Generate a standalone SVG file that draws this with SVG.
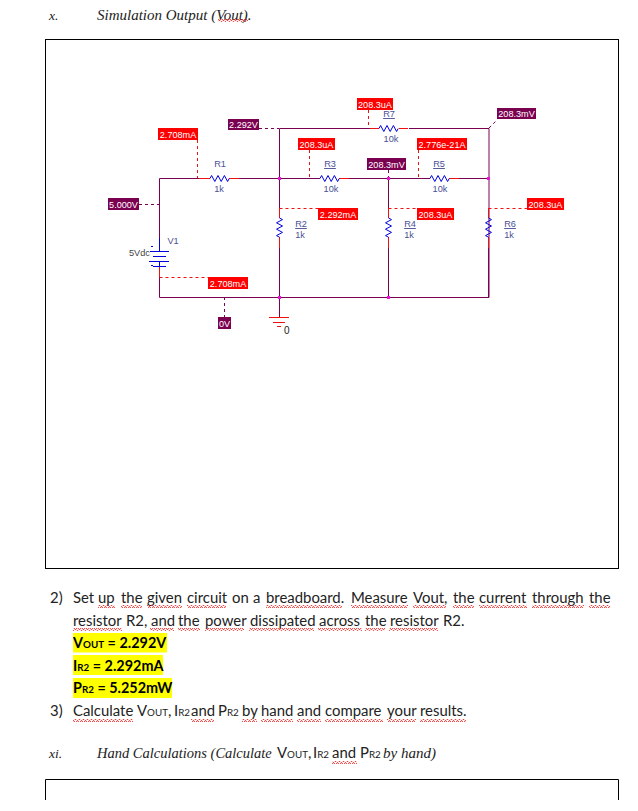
<svg xmlns="http://www.w3.org/2000/svg" width="638" height="811" viewBox="0 0 638 811">
<style>
.wire{fill:none;stroke:#7a0050;stroke-width:1}
.lead{fill:none;stroke:#f01010;stroke-width:1}
.part{fill:none;stroke:#0000e0;stroke-width:1}
.dr{fill:none;stroke:#ee1111;stroke-width:1;stroke-dasharray:3 3}
.dw{fill:none;stroke:#7a0050;stroke-width:1;stroke-dasharray:3 3}
.cur{fill:#ff0000}
.vol{fill:#7a0050}
.lb{font:9.100px "Liberation Sans",Arial,sans-serif;fill:#fff;text-anchor:middle}
.ref{font:9.200px "Liberation Sans",Arial,sans-serif;fill:#4a4f96;text-anchor:middle}
.u{text-decoration:underline}
.dot{fill:#ee11dd}
.frame{fill:none;stroke:#000;stroke-width:1}
.body{font:14.900px Lato,"Open Sans",sans-serif;fill:#222}
.bold{font:bold 14.400px Lato,"Open Sans",sans-serif;fill:#000}
.ital{font:italic 15px "Liberation Serif",serif;fill:#222}
.sub{font-size:9.800px}
.hl{fill:#ffff00}
.sq{fill:url(#squig)}
</style>
<defs>
<pattern id="squig" width="4" height="3" patternUnits="userSpaceOnUse"><path d="M0 2.500 L1 0.700 L2 0.700 L3 2.500 L4 2.500" fill="none" stroke="#f01818" stroke-width="0.800"/></pattern>
<path id="zig" d="M0 0l1.600-3 3.200 6 3.200-6 3.200 6 3.200-6 3.200 6 1.600-3"/>
</defs>

<rect class="frame" x="45.500" y="39.500" width="573" height="529"/>
<path class="frame" d="M45.500 800V779.500H618.500V800"/>

<text class="ital" x="49" y="20" style="font-size:13.500px">x.</text>
<text class="ital" x="97" y="20">Simulation Output (Vout).</text>
<rect class="sq" x="218" y="19" width="30" height="3"/>

<g id="connectors">
<path class="wire" d="M159.500 238V178.500H199M239 178.500H279.500M279.500 128.500V218M279.500 248V297.500M159.500 277V297.500H489V128.500H409M370 128.500H279.500M279.500 178.500H320M349 178.500H430M459 178.500H488.500M388.500 178.500V218M388.500 248V297.500M488.500 248V297M279.500 297.500V317"/>
<path class="lead" d="M199 178.500H210M229 178.500H239M339 178.500H349M449 178.500H459M399 128.500H408M370 128.500H379M279.500 237V248M388.500 237V248M488.500 237V248M279.500 208V218M388.500 208V218M488.500 208V218M159.500 267V277"/>
<path class="dr" d="M197.500 140V178M368.500 110V128M309.500 150V178M418.500 150V178M279.500 208.500H318M388.500 208.500H417M488.500 208.500H527M159.500 277.500H208"/>
<path class="dw" d="M259 128.500H279M139 204.500H159M388.500 170V178M224.500 297V317M489 128L497 120"/>
</g>

<g id="R1"><use href="#zig" class="part" x="210" y="178.500"/><text class="ref" x="220" y="167">R1</text><text class="ref" x="219" y="192">1k</text></g>
<g id="R7"><use href="#zig" class="part" x="379" y="128.500"/><text class="ref u" x="389" y="117">R7</text><text class="ref" x="391" y="142">10k</text></g>
<g id="R3"><use href="#zig" class="part" x="320" y="178.500"/><text class="ref u" x="330" y="167">R3</text><text class="ref" x="331" y="192">10k</text></g>
<g id="R5"><use href="#zig" class="part" x="430" y="178.500"/><text class="ref u" x="439" y="167">R5</text><text class="ref" x="440" y="192">10k</text></g>
<g id="R2"><use href="#zig" class="part" transform="translate(279.500 218) rotate(90)"/><text class="ref u" x="301" y="227">R2</text><text class="ref" x="300" y="238">1k</text></g>
<g id="R4"><use href="#zig" class="part" transform="translate(388.500 218) rotate(90)"/><text class="ref u" x="410" y="227">R4</text><text class="ref" x="409" y="238">1k</text></g>
<g id="R6"><use href="#zig" class="part" transform="translate(488.500 218) rotate(90)"/><text class="ref u" x="510" y="227">R6</text><text class="ref" x="509" y="238">1k</text></g>

<g id="V1">
<path class="part" d="M159.500 238V251M150 251.500H169M153 256.500H166M149 261.500H169M159.500 262V266M153 266.500H166M151 246.500H153M151 265.500H153"/>
<text class="ref" x="173" y="244">V1</text>
<text x="129" y="256" style="font:9.200px 'Liberation Sans',Arial,sans-serif;fill:#444">5Vdc</text>
</g>

<g id="ground">
<path class="lead" d="M269 317.500H289M273 322.500H285M277 326.500H281"/>
<text x="284" y="333.500" style="font:10px 'Liberation Sans',Arial,sans-serif;fill:#222">0</text>
</g>

<g id="junctions">
<rect class="dot" x="278" y="177" width="3" height="3"/>
<rect class="dot" x="387" y="177" width="3" height="3"/>
<rect class="dot" x="487" y="177" width="3" height="3"/>
<rect class="dot" x="278" y="296" width="3" height="3"/>
<rect class="dot" x="387" y="296" width="3" height="3"/>
</g>

<g id="L1"><rect class="cur" x="158" y="128" width="40" height="12"/><text class="lb" x="178" y="137.500">2.708mA</text></g>
<g id="L2"><rect class="vol" x="228" y="119" width="31" height="11"/><text class="lb" x="243.500" y="128">2.292V</text></g>
<g id="L3"><rect class="vol" x="108" y="198" width="31" height="12"/><text class="lb" x="123.500" y="207.500">5.000V</text></g>
<g id="L4"><rect class="cur" x="357" y="98" width="36" height="12"/><text class="lb" x="375" y="107.500">208.3uA</text></g>
<g id="L5"><rect class="vol" x="497" y="108" width="39" height="11"/><text class="lb" x="516.500" y="117">208.3mV</text></g>
<g id="L6"><rect class="cur" x="298" y="138" width="37" height="12"/><text class="lb" x="316.500" y="147.500">208.3uA</text></g>
<g id="L7"><rect class="cur" x="417" y="138" width="50" height="12"/><text class="lb" x="442" y="147.500">2.776e-21A</text></g>
<g id="L8"><rect class="vol" x="367" y="158" width="39" height="12"/><text class="lb" x="386.500" y="167.500">208.3mV</text></g>
<g id="L9"><rect class="cur" x="318" y="208" width="40" height="12"/><text class="lb" x="338" y="217.500">2.292mA</text></g>
<g id="L10"><rect class="cur" x="417" y="208" width="37" height="12"/><text class="lb" x="435.500" y="217.500">208.3uA</text></g>
<g id="L11"><rect class="cur" x="527" y="198" width="37" height="12"/><text class="lb" x="545.500" y="207.500">208.3uA</text></g>
<g id="L12"><rect class="cur" x="208" y="277" width="40" height="12"/><text class="lb" x="228" y="286.500">2.708mA</text></g>
<g id="L13"><rect class="vol" x="218" y="317" width="13" height="12"/><text class="lb" x="224.500" y="326.500">0V</text></g>

<text class="body" x="50" y="603">2)</text>
<text class="body" y="603"><tspan x="73">Set</tspan> <tspan x="98">up</tspan> <tspan x="121">the</tspan> <tspan x="147">given</tspan> <tspan x="187">circuit</tspan> <tspan x="232">on</tspan> <tspan x="253">a</tspan> <tspan x="266">breadboard.</tspan> <tspan x="351">Measure</tspan> <tspan x="413">Vout,</tspan> <tspan x="453">the</tspan> <tspan x="479">current</tspan> <tspan x="532">through</tspan> <tspan x="589">the</tspan></text>
<rect class="sq" x="98" y="605" width="17" height="3"/><rect class="sq" x="121" y="605" width="21" height="3"/><rect class="sq" x="147" y="605" width="35" height="3"/><rect class="sq" x="187" y="605" width="39" height="3"/><rect class="sq" x="266" y="605" width="76" height="3"/><rect class="sq" x="351" y="605" width="57" height="3"/><rect class="sq" x="413" y="605" width="33" height="3"/><rect class="sq" x="453" y="605" width="21" height="3"/><rect class="sq" x="479" y="605" width="48" height="3"/><rect class="sq" x="532" y="605" width="52" height="3"/><rect class="sq" x="589" y="605" width="21" height="3"/>
<text class="body" y="626"><tspan x="73">resistor</tspan> <tspan x="126">R2,</tspan> <tspan x="151">and</tspan> <tspan x="178">the</tspan> <tspan x="205">power</tspan> <tspan x="250">dissipated</tspan> <tspan x="319">across</tspan> <tspan x="365">the</tspan> <tspan x="390">resistor</tspan> <tspan x="443">R2.</tspan></text>
<rect class="sq" x="73" y="628" width="49" height="3"/><rect class="sq" x="150" y="628" width="24" height="3"/><rect class="sq" x="178" y="628" width="22" height="3"/><rect class="sq" x="205" y="628" width="39" height="3"/><rect class="sq" x="249" y="628" width="65" height="3"/><rect class="sq" x="318" y="628" width="44" height="3"/><rect class="sq" x="365" y="628" width="20" height="3"/><rect class="sq" x="389" y="628" width="49" height="3"/>

<rect class="hl" x="73" y="633" width="94" height="19.500"/>
<rect class="hl" x="73" y="655" width="90" height="20"/>
<rect class="hl" x="73" y="678" width="99" height="20"/>
<text class="bold" x="73" y="648">V<tspan class="sub">OUT</tspan> = 2.292V</text>
<text class="bold" x="73" y="671">I<tspan class="sub">R2</tspan> = 2.292mA</text>
<text class="bold" x="73" y="693">P<tspan class="sub">R2</tspan> = 5.252mW</text>

<text class="body" x="50" y="716">3)</text>
<text class="body" y="716"><tspan x="73">Calculate</tspan> <tspan x="137">V<tspan class="sub">OUT</tspan>,</tspan> <tspan x="174">I<tspan class="sub">R2</tspan></tspan> <tspan x="191">and</tspan> <tspan x="218">P<tspan class="sub">R2</tspan></tspan> <tspan x="242">by</tspan> <tspan x="261">hand</tspan> <tspan x="297">and</tspan> <tspan x="325">compare</tspan> <tspan x="387">your</tspan> <tspan x="420">results.</tspan></text>
<rect class="sq" x="73" y="719" width="60" height="3"/><rect class="sq" x="191" y="719" width="23" height="3"/><rect class="sq" x="242" y="719" width="15" height="3"/><rect class="sq" x="261" y="719" width="32" height="3"/><rect class="sq" x="297" y="719" width="24" height="3"/><rect class="sq" x="325" y="719" width="58" height="3"/><rect class="sq" x="387" y="719" width="29" height="3"/><rect class="sq" x="420" y="719" width="46" height="3"/>

<text class="ital" x="49" y="758" style="font-size:13.500px">xi.</text>
<text class="ital" y="758"><tspan x="97" style="font-size:14.500px">Hand Calculations (Calculate</tspan> <tspan x="277" class="body" style="font-style:normal">V<tspan class="sub">OUT</tspan>,</tspan> <tspan x="313" class="body" style="font-style:normal">I<tspan class="sub">R2</tspan></tspan> <tspan x="332" class="body" style="font-style:normal">and</tspan> <tspan x="360" class="body" style="font-style:normal">P<tspan class="sub">R2</tspan></tspan> <tspan x="383">by hand)</tspan></text>
<rect class="sq" x="332" y="761" width="25" height="3"/>
</svg>
